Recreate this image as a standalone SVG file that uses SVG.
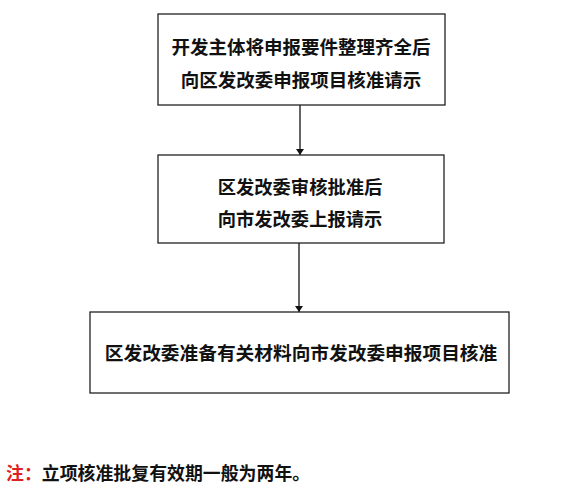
<svg xmlns="http://www.w3.org/2000/svg" width="564" height="492" viewBox="0 0 564 492">
<style>
.box{fill:#fff;stroke:#222;stroke-width:1.3}
.t{font-family:"Noto Sans CJK SC","Noto Sans",sans-serif;font-weight:bold;fill:#111;text-anchor:middle}
.c{stroke:#111;stroke-width:1.3;fill:none}
</style>
<defs>
<marker id="ah" viewBox="0 0 10 10" refX="10" refY="5" markerWidth="6" markerHeight="8" markerUnits="userSpaceOnUse" orient="auto-start-reverse" preserveAspectRatio="none">
<path d="M0,0 L10,5 L0,10 Z" fill="#111"/>
</marker>
</defs>
<rect width="564" height="492" fill="#fff"/>
<g id="connectors">
<line class="c" x1="300" y1="105" x2="300" y2="155" marker-end="url(#ah)"/>
<line class="c" x1="299" y1="243" x2="299" y2="312" marker-end="url(#ah)"/>
</g>
<g id="n1">
<rect class="box" x="158" y="14" width="287" height="91"/>
<text class="t" x="301" y="54" font-size="18.5">开发主体将申报要件整理齐全后</text>
<text class="t" x="301" y="87" font-size="18.5">向区发改委申报项目核准请示</text>
</g>
<g id="n2">
<rect class="box" x="158" y="155" width="286" height="88"/>
<text class="t" x="300" y="193.5" font-size="18.3">区发改委审核批准后</text>
<text class="t" x="300" y="225.5" font-size="18.3">向市发改委上报请示</text>
</g>
<g id="n3">
<rect class="box" x="90" y="312" width="419" height="81"/>
<text class="t" x="301" y="359.5" font-size="18.7">区发改委准备有关材料向市发改委申报项目核准</text>
</g>
<g id="note">
<text font-family="'Noto Sans CJK SC','Noto Sans',sans-serif" font-weight="bold" font-size="17.9" x="6" y="479.5" fill="#111"><tspan fill="#e02020">注：</tspan>立项核准批复有效期一般为两年。</text>
</g>
</svg>
